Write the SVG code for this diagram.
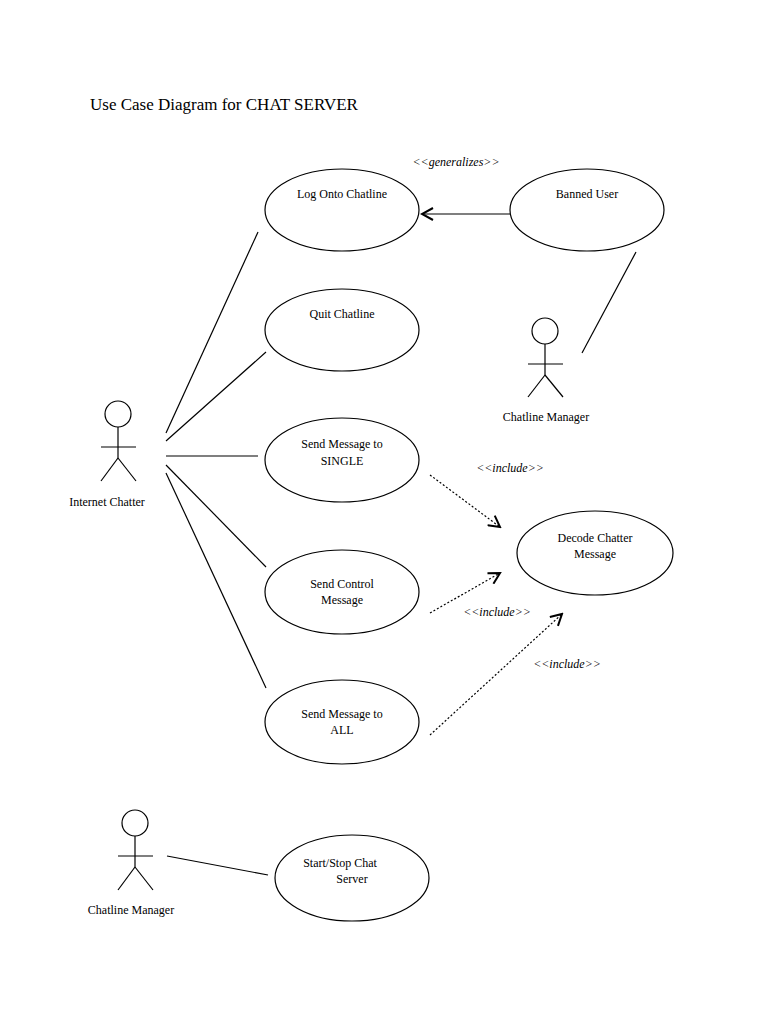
<svg xmlns="http://www.w3.org/2000/svg" width="768" height="1024" viewBox="0 0 768 1024">
<style>
text{font-family:"Liberation Serif",serif;font-size:12px;fill:#000;text-anchor:middle}
.t{font-size:17px;text-anchor:start}
.i{font-style:italic}
ellipse,circle{fill:#fff;stroke:#000;stroke-width:1.2}
line,path{stroke:#000;stroke-width:1.2;fill:none}
.d{stroke-dasharray:2,2}
</style>
<defs>
<marker id="oa" markerWidth="14" markerHeight="14" refX="12" refY="7" orient="auto" markerUnits="userSpaceOnUse">
<path d="M1,1 L12,7 L1,13" style="stroke-width:2"/>
</marker>
</defs>
<rect width="768" height="1024" fill="#fff"/>
<text class="t" x="90" y="110">Use Case Diagram for CHAT SERVER</text>
<g id="connectors">
<line x1="166" y1="433" x2="258" y2="232"/>
<line x1="166" y1="441" x2="266" y2="352"/>
<line x1="166" y1="456" x2="258" y2="456"/>
<line x1="166" y1="465" x2="266" y2="567"/>
<line x1="166" y1="473" x2="266" y2="688"/>
<line x1="582" y1="353" x2="636" y2="252"/>
<line x1="167" y1="856" x2="268" y2="875"/>
<line x1="510" y1="214" x2="422" y2="214" marker-end="url(#oa)"/>
<line class="d" x1="430" y1="475" x2="500" y2="527" marker-end="url(#oa)"/>
<line class="d" x1="430" y1="613" x2="500" y2="573" marker-end="url(#oa)"/>
<line class="d" x1="430" y1="735" x2="562" y2="614" marker-end="url(#oa)"/>
<text class="i" x="456" y="166">&lt;&lt;generalizes&gt;&gt;</text>
<text class="i" x="510" y="472">&lt;&lt;include&gt;&gt;</text>
<text class="i" x="497" y="616">&lt;&lt;include&gt;&gt;</text>
<text class="i" x="567" y="668">&lt;&lt;include&gt;&gt;</text>
</g>
<g id="log"><ellipse cx="342" cy="210" rx="77" ry="41"/><text x="342" y="198">Log Onto Chatline</text></g>
<g id="quit"><ellipse cx="342" cy="330" rx="77" ry="41"/><text x="342" y="318">Quit Chatline</text></g>
<g id="single"><ellipse cx="342" cy="460" rx="77" ry="42"/><text x="342" y="448">Send Message to</text><text x="342" y="465">SINGLE</text></g>
<g id="control"><ellipse cx="342" cy="592" rx="77" ry="42"/><text x="342" y="588">Send Control</text><text x="342" y="604">Message</text></g>
<g id="all"><ellipse cx="342" cy="722" rx="77" ry="42"/><text x="342" y="718">Send Message to</text><text x="342" y="734">ALL</text></g>
<g id="startstop"><ellipse cx="352" cy="878" rx="77" ry="43"/><text x="340" y="867">Start/Stop Chat</text><text x="352" y="883">Server</text></g>
<g id="banned"><ellipse cx="587" cy="210" rx="77" ry="41"/><text x="587" y="198">Banned User</text></g>
<g id="decode"><ellipse cx="595" cy="553" rx="78" ry="42"/><text x="595" y="542">Decode Chatter</text><text x="595" y="558">Message</text></g>
<g id="internetChatter">
<circle cx="118" cy="414" r="13"/>
<line x1="118" y1="427" x2="118" y2="458"/><line x1="101" y1="447" x2="136" y2="447"/>
<line x1="118" y1="458" x2="101" y2="481"/><line x1="118" y1="458" x2="136" y2="481"/>
<text x="107" y="506">Internet Chatter</text>
</g>
<g id="managerTop">
<circle cx="545" cy="331" r="13"/>
<line x1="545" y1="344" x2="545" y2="375"/><line x1="528" y1="364" x2="563" y2="364"/>
<line x1="545" y1="375" x2="528" y2="397"/><line x1="545" y1="375" x2="563" y2="397"/>
<text x="546" y="421">Chatline Manager</text>
</g>
<g id="managerBottom">
<circle cx="135" cy="823" r="13"/>
<line x1="135" y1="836" x2="135" y2="867"/><line x1="118" y1="856" x2="153" y2="856"/>
<line x1="135" y1="867" x2="118" y2="890"/><line x1="135" y1="867" x2="153" y2="890"/>
<text x="131" y="914">Chatline Manager</text>
</g>
</svg>
